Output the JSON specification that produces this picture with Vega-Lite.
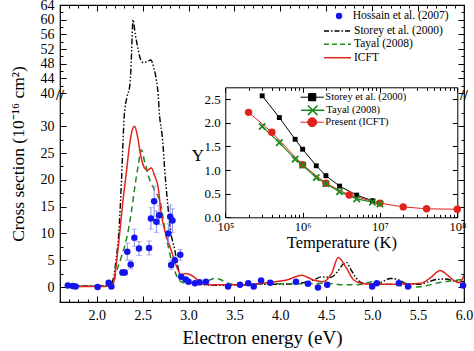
{
  "$schema": "https://vega.github.io/schema/vega-lite/v6.json",
  "width": 404,
  "height": 297,
  "autosize": {"type": "none"},
  "padding": {"left": 60, "top": 5, "right": 10, "bottom": 49},
  "background": "white",
  "config": {
    "font": "Liberation Serif",
    "view": {"stroke": "black", "strokeWidth": 1.2},
    "axis": {"grid": false, "labelFont": "Liberation Serif", "titleFont": "Liberation Serif", "labelColor": "black", "titleColor": "black", "tickColor": "black", "domainColor": "black", "labelFontWeight": "normal", "titleFontWeight": "normal", "labelOverlap": false, "labelFlush": false, "labelBound": false},
    "legend": {"labelFont": "Liberation Serif", "labelColor": "black", "title": null, "padding": 0, "orient": "none"}
  },
  "datasets": {
    "hos": [
      {"s":"Hossain et al. (2007)","x":1.685,"y":0.3,"e":0.3},{"s":"Hossain et al. (2007)","x":1.74,"y":0.2,"e":0.2},{"s":"Hossain et al. (2007)","x":1.77,"y":0.1,"e":0.2},{"s":"Hossain et al. (2007)","x":2.01,"y":0.0,"e":0.2},{"s":"Hossain et al. (2007)","x":2.13,"y":0.8,"e":0.4},{"s":"Hossain et al. (2007)","x":2.16,"y":0.1,"e":0.3},{"s":"Hossain et al. (2007)","x":2.28,"y":2.7,"e":0.5},{"s":"Hossain et al. (2007)","x":2.305,"y":2.7,"e":0.5},{"s":"Hossain et al. (2007)","x":2.333,"y":6.6,"e":1.6},{"s":"Hossain et al. (2007)","x":2.37,"y":4.2,"e":0.8},{"s":"Hossain et al. (2007)","x":2.41,"y":9.2,"e":1.6},{"s":"Hossain et al. (2007)","x":2.46,"y":7.2,"e":1.3},{"s":"Hossain et al. (2007)","x":2.57,"y":7.3,"e":1.3},{"s":"Hossain et al. (2007)","x":2.59,"y":12.8,"e":2.0},{"s":"Hossain et al. (2007)","x":2.625,"y":16.0,"e":2.8},{"s":"Hossain et al. (2007)","x":2.65,"y":12.2,"e":2.0},{"s":"Hossain et al. (2007)","x":2.68,"y":13.4,"e":1.8},{"s":"Hossain et al. (2007)","x":2.78,"y":10.0,"e":1.8},{"s":"Hossain et al. (2007)","x":2.80,"y":13.1,"e":2.2},{"s":"Hossain et al. (2007)","x":2.825,"y":12.4,"e":2.2},{"s":"Hossain et al. (2007)","x":2.81,"y":4.1,"e":0.8},{"s":"Hossain et al. (2007)","x":2.85,"y":5.0,"e":0.8},{"s":"Hossain et al. (2007)","x":2.91,"y":6.0,"e":1.0},{"s":"Hossain et al. (2007)","x":2.92,"y":1.9,"e":0.5},{"s":"Hossain et al. (2007)","x":2.97,"y":1.4,"e":0.3},{"s":"Hossain et al. (2007)","x":3.0,"y":1.0,"e":0.3},{"s":"Hossain et al. (2007)","x":3.07,"y":0.7,"e":0.2},{"s":"Hossain et al. (2007)","x":3.12,"y":0.9,"e":0.2},{"s":"Hossain et al. (2007)","x":3.19,"y":1.0,"e":0.2},{"s":"Hossain et al. (2007)","x":3.43,"y":0.1,"e":0.2},{"s":"Hossain et al. (2007)","x":3.56,"y":0.4,"e":0.2},{"s":"Hossain et al. (2007)","x":3.65,"y":0.7,"e":0.2},{"s":"Hossain et al. (2007)","x":3.71,"y":0.1,"e":0.2},{"s":"Hossain et al. (2007)","x":3.79,"y":1.2,"e":0.2},{"s":"Hossain et al. (2007)","x":3.89,"y":0.8,"e":0.2},{"s":"Hossain et al. (2007)","x":4.17,"y":1.0,"e":0.2},{"s":"Hossain et al. (2007)","x":4.30,"y":0.6,"e":0.2},{"s":"Hossain et al. (2007)","x":4.41,"y":-0.1,"e":0.2},{"s":"Hossain et al. (2007)","x":4.51,"y":0.4,"e":0.2},{"s":"Hossain et al. (2007)","x":5.0,"y":0.1,"e":0.2},{"s":"Hossain et al. (2007)","x":5.05,"y":0.7,"e":0.2},{"s":"Hossain et al. (2007)","x":5.29,"y":0.7,"e":0.2},{"s":"Hossain et al. (2007)","x":5.39,"y":0.1,"e":0.2},{"s":"Hossain et al. (2007)","x":5.99,"y":0.3,"e":0.2}
    ],
    "sto": [
      {"s":"Storey et al. (2000)","x":1.68,"y":0.2},{"s":"Storey et al. (2000)","x":1.9,"y":0.2},{"s":"Storey et al. (2000)","x":2.1,"y":0.3},{"s":"Storey et al. (2000)","x":2.15,"y":0.5},{"s":"Storey et al. (2000)","x":2.18,"y":1.5},{"s":"Storey et al. (2000)","x":2.21,"y":5},{"s":"Storey et al. (2000)","x":2.24,"y":10},{"s":"Storey et al. (2000)","x":2.27,"y":20},{"s":"Storey et al. (2000)","x":2.30,"y":32},{"s":"Storey et al. (2000)","x":2.33,"y":37},{"s":"Storey et al. (2000)","x":2.36,"y":42},{"s":"Storey et al. (2000)","x":2.375,"y":48},{"s":"Storey et al. (2000)","x":2.385,"y":55},{"s":"Storey et al. (2000)","x":2.395,"y":60},{"s":"Storey et al. (2000)","x":2.42,"y":56},{"s":"Storey et al. (2000)","x":2.45,"y":52},{"s":"Storey et al. (2000)","x":2.48,"y":49},{"s":"Storey et al. (2000)","x":2.51,"y":48.3},{"s":"Storey et al. (2000)","x":2.55,"y":48.6},{"s":"Storey et al. (2000)","x":2.59,"y":49},{"s":"Storey et al. (2000)","x":2.62,"y":47},{"s":"Storey et al. (2000)","x":2.65,"y":43.5},{"s":"Storey et al. (2000)","x":2.67,"y":38},{"s":"Storey et al. (2000)","x":2.68,"y":33},{"s":"Storey et al. (2000)","x":2.72,"y":27},{"s":"Storey et al. (2000)","x":2.74,"y":22},{"s":"Storey et al. (2000)","x":2.77,"y":16},{"s":"Storey et al. (2000)","x":2.80,"y":11},{"s":"Storey et al. (2000)","x":2.85,"y":6.9},{"s":"Storey et al. (2000)","x":2.90,"y":2.6},{"s":"Storey et al. (2000)","x":2.95,"y":1.2},{"s":"Storey et al. (2000)","x":3.0,"y":1.0},{"s":"Storey et al. (2000)","x":3.05,"y":0.7},{"s":"Storey et al. (2000)","x":3.2,"y":0.4},{"s":"Storey et al. (2000)","x":3.4,"y":0.3},{"s":"Storey et al. (2000)","x":3.6,"y":0.4},{"s":"Storey et al. (2000)","x":3.8,"y":0.5},{"s":"Storey et al. (2000)","x":4.0,"y":0.5},{"s":"Storey et al. (2000)","x":4.2,"y":0.7},{"s":"Storey et al. (2000)","x":4.35,"y":1.2},{"s":"Storey et al. (2000)","x":4.45,"y":1.9},{"s":"Storey et al. (2000)","x":4.55,"y":1.8},{"s":"Storey et al. (2000)","x":4.62,"y":2.8},{"s":"Storey et al. (2000)","x":4.68,"y":4.2},{"s":"Storey et al. (2000)","x":4.72,"y":4.6},{"s":"Storey et al. (2000)","x":4.76,"y":3.5},{"s":"Storey et al. (2000)","x":4.82,"y":1.8},{"s":"Storey et al. (2000)","x":4.9,"y":0.7},{"s":"Storey et al. (2000)","x":5.0,"y":0.6},{"s":"Storey et al. (2000)","x":5.1,"y":0.9},{"s":"Storey et al. (2000)","x":5.2,"y":1.6},{"s":"Storey et al. (2000)","x":5.28,"y":1.4},{"s":"Storey et al. (2000)","x":5.38,"y":0.6},{"s":"Storey et al. (2000)","x":5.5,"y":0.5},{"s":"Storey et al. (2000)","x":5.6,"y":0.9},{"s":"Storey et al. (2000)","x":5.7,"y":1.4},{"s":"Storey et al. (2000)","x":5.8,"y":1.5},{"s":"Storey et al. (2000)","x":5.9,"y":1.1},{"s":"Storey et al. (2000)","x":6.0,"y":1.0}
    ],
    "tay": [
      {"s":"Tayal (2008)","x":1.68,"y":0.1},{"s":"Tayal (2008)","x":2.1,"y":0.2},{"s":"Tayal (2008)","x":2.16,"y":0.5},{"s":"Tayal (2008)","x":2.18,"y":0.7},{"s":"Tayal (2008)","x":2.21,"y":2.6},{"s":"Tayal (2008)","x":2.27,"y":5.7},{"s":"Tayal (2008)","x":2.33,"y":9.4},{"s":"Tayal (2008)","x":2.377,"y":14},{"s":"Tayal (2008)","x":2.41,"y":18.1},{"s":"Tayal (2008)","x":2.45,"y":22.5},{"s":"Tayal (2008)","x":2.486,"y":25.6},{"s":"Tayal (2008)","x":2.52,"y":23.5},{"s":"Tayal (2008)","x":2.577,"y":20},{"s":"Tayal (2008)","x":2.63,"y":18.1},{"s":"Tayal (2008)","x":2.70,"y":15.2},{"s":"Tayal (2008)","x":2.74,"y":11},{"s":"Tayal (2008)","x":2.78,"y":7.5},{"s":"Tayal (2008)","x":2.82,"y":4.5},{"s":"Tayal (2008)","x":2.86,"y":2.5},{"s":"Tayal (2008)","x":2.9,"y":1.2},{"s":"Tayal (2008)","x":2.95,"y":0.8},{"s":"Tayal (2008)","x":3.1,"y":0.7},{"s":"Tayal (2008)","x":3.2,"y":1.1},{"s":"Tayal (2008)","x":3.29,"y":1.6},{"s":"Tayal (2008)","x":3.36,"y":1.3},{"s":"Tayal (2008)","x":3.41,"y":0.8},{"s":"Tayal (2008)","x":3.5,"y":0.5},{"s":"Tayal (2008)","x":3.8,"y":0.5},{"s":"Tayal (2008)","x":4.0,"y":0.6},{"s":"Tayal (2008)","x":4.3,"y":0.6},{"s":"Tayal (2008)","x":4.5,"y":0.7},{"s":"Tayal (2008)","x":4.7,"y":0.4},{"s":"Tayal (2008)","x":4.9,"y":0.5},{"s":"Tayal (2008)","x":5.0,"y":1.0},{"s":"Tayal (2008)","x":5.1,"y":0.7},{"s":"Tayal (2008)","x":5.3,"y":0.3},{"s":"Tayal (2008)","x":5.5,"y":0.0},{"s":"Tayal (2008)","x":5.6,"y":0.3},{"s":"Tayal (2008)","x":5.75,"y":0.9},{"s":"Tayal (2008)","x":5.9,"y":1.2},{"s":"Tayal (2008)","x":6.0,"y":1.5}
    ],
    "icf": [
      {"s":"ICFT","x":1.68,"y":0.1},{"s":"ICFT","x":2.0,"y":0.1},{"s":"ICFT","x":2.15,"y":0.2},{"s":"ICFT","x":2.18,"y":0.5},{"s":"ICFT","x":2.21,"y":3.8},{"s":"ICFT","x":2.25,"y":10},{"s":"ICFT","x":2.285,"y":16},{"s":"ICFT","x":2.32,"y":21},{"s":"ICFT","x":2.36,"y":26.8},{"s":"ICFT","x":2.39,"y":29.5},{"s":"ICFT","x":2.413,"y":30},{"s":"ICFT","x":2.44,"y":28.5},{"s":"ICFT","x":2.48,"y":24.5},{"s":"ICFT","x":2.52,"y":22.2},{"s":"ICFT","x":2.55,"y":21.8},{"s":"ICFT","x":2.595,"y":22.2},{"s":"ICFT","x":2.63,"y":20.8},{"s":"ICFT","x":2.67,"y":18.5},{"s":"ICFT","x":2.70,"y":14},{"s":"ICFT","x":2.75,"y":10},{"s":"ICFT","x":2.81,"y":6.9},{"s":"ICFT","x":2.87,"y":3.8},{"s":"ICFT","x":2.92,"y":2.3},{"s":"ICFT","x":2.97,"y":2.5},{"s":"ICFT","x":3.03,"y":2.2},{"s":"ICFT","x":3.10,"y":1.3},{"s":"ICFT","x":3.15,"y":0.5},{"s":"ICFT","x":3.3,"y":0.4},{"s":"ICFT","x":3.6,"y":0.4},{"s":"ICFT","x":3.9,"y":0.9},{"s":"ICFT","x":4.07,"y":1.3},{"s":"ICFT","x":4.23,"y":2.2},{"s":"ICFT","x":4.36,"y":1.3},{"s":"ICFT","x":4.46,"y":1.0},{"s":"ICFT","x":4.56,"y":2.6},{"s":"ICFT","x":4.63,"y":5.5},{"s":"ICFT","x":4.71,"y":3.8},{"s":"ICFT","x":4.80,"y":1.3},{"s":"ICFT","x":4.9,"y":0.6},{"s":"ICFT","x":5.1,"y":0.5},{"s":"ICFT","x":5.3,"y":0.5},{"s":"ICFT","x":5.53,"y":0.7},{"s":"ICFT","x":5.64,"y":1.8},{"s":"ICFT","x":5.74,"y":3.1},{"s":"ICFT","x":5.82,"y":2.2},{"s":"ICFT","x":5.89,"y":1.2},{"s":"ICFT","x":5.95,"y":0.8},{"s":"ICFT","x":6.0,"y":2.2}
    ],
    "brk": [{"x":1.6,"y":37.5},{"x":6.0,"y":37.5}],
    "ist": [
      {"m":"Storey et al. (2000)","t":300000,"g":2.57},{"m":"Storey et al. (2000)","t":500000,"g":2.11},{"m":"Storey et al. (2000)","t":800000,"g":1.65},{"m":"Storey et al. (2000)","t":1000000,"g":1.44},{"m":"Storey et al. (2000)","t":1500000,"g":1.09},{"m":"Storey et al. (2000)","t":2000000,"g":0.88},{"m":"Storey et al. (2000)","t":3000000,"g":0.66},{"m":"Storey et al. (2000)","t":5000000,"g":0.47},{"m":"Storey et al. (2000)","t":8000000,"g":0.35}
    ],
    "ita": [
      {"m":"Tayal (2008)","t":300000,"g":1.92},{"m":"Tayal (2008)","t":500000,"g":1.58},{"m":"Tayal (2008)","t":800000,"g":1.23},{"m":"Tayal (2008)","t":1000000,"g":1.10},{"m":"Tayal (2008)","t":1500000,"g":0.84},{"m":"Tayal (2008)","t":2000000,"g":0.71},{"m":"Tayal (2008)","t":3000000,"g":0.54},{"m":"Tayal (2008)","t":5000000,"g":0.39},{"m":"Tayal (2008)","t":8000000,"g":0.32},{"m":"Tayal (2008)","t":10000000,"g":0.28}
    ],
    "ipr": [
      {"m":"Present  (ICFT)","t":200000,"g":2.22},{"m":"Present  (ICFT)","t":400000,"g":1.80},{"m":"Present  (ICFT)","t":1000000,"g":1.11},{"m":"Present  (ICFT)","t":2000000,"g":0.72},{"m":"Present  (ICFT)","t":4000000,"g":0.47},{"m":"Present  (ICFT)","t":10000000,"g":0.30},{"m":"Present  (ICFT)","t":20000000,"g":0.22},{"m":"Present  (ICFT)","t":40000000,"g":0.18},{"m":"Present  (ICFT)","t":100000000,"g":0.17}
    ]
  },
  "layer": [
    {
      "layer": [
        {
          "data": {"name": "sto"},
          "mark": {"type": "line", "interpolate": "monotone", "strokeWidth": 1.4, "strokeDash": [6, 2, 1.5, 2, 1.5, 2], "clip": true},
          "encoding": {
            "x": {"field": "x", "type": "quantitative", "scale": {"domain": [1.6, 6.0], "nice": false, "zero": false},
              "axis": {"orient": "bottom", "values": [2, 2.5, 3, 3.5, 4, 4.5, 5, 5.5, 6], "format": ".1f", "ticks": false, "domain": false, "labelFontSize": 14, "labelPadding": 6, "title": "Electron energy (eV)", "titleFontSize": 19, "titlePadding": 6}},
            "y": {"field": "y", "type": "quantitative", "scale": {"domain": [-2.8, 35, 40, 64], "range": [297, 94.5, 88, 0], "nice": false, "zero": false},
              "axis": {"orient": "left", "values": [0, 5, 10, 15, 20, 25, 30, 40, 44, 48, 52, 56, 60, 64], "ticks": false, "domain": false, "labelFontSize": 14, "labelPadding": 6, "title": "Cross section (10⁻¹⁶ cm²)", "titleFontSize": 17.5, "titlePadding": 13}},
            "color": {"field": "s", "type": "nominal", "scale": {"domain": ["Storey et al. (2000)"], "range": ["#000000"]},
              "legend": {"legendX": 270.5, "legendY": 19, "symbolType": "M-2.25,0H2.25", "symbolSize": 144, "symbolDash": [5, 2, 1.5, 2], "symbolStrokeWidth": 1.5, "symbolFillColor": "transparent", "labelFont": "Liberation Serif", "labelFontSize": 11.5, "labelOffset": 9.5}}
          }
        },
        {
          "data": {"name": "tay"},
          "mark": {"type": "line", "interpolate": "monotone", "strokeWidth": 1.5, "strokeDash": [6, 4], "clip": true},
          "encoding": {
            "x": {"field": "x", "type": "quantitative", "scale": {"domain": [1.6, 6.0], "nice": false, "zero": false},
              "axis": {"orient": "bottom", "values": [2, 2.5, 3, 3.5, 4, 4.5, 5, 5.5, 6], "labels": false, "domain": false, "tickSize": -6, "title": null}},
            "y": {"field": "y", "type": "quantitative", "scale": {"domain": [-2.8, 35, 40, 64], "range": [297, 94.5, 88, 0], "nice": false, "zero": false},
              "axis": {"orient": "left", "values": [0, 5, 10, 15, 20, 25, 30, 40, 44, 48, 52, 56, 60, 64], "labels": false, "domain": false, "tickSize": -6, "title": null}},
            "color": {"field": "s", "type": "nominal", "scale": {"domain": ["Tayal (2008)"], "range": ["#1e8a1e"]},
              "legend": {"legendX": 270.5, "legendY": 32.3, "symbolType": "M-2.25,0H2.25", "symbolSize": 144, "symbolDash": [5, 3], "symbolStrokeWidth": 1.5, "symbolFillColor": "transparent", "labelFont": "Liberation Serif", "labelFontSize": 11.5, "labelOffset": 9.5}}
          }
        },
        {
          "data": {"name": "icf"},
          "mark": {"type": "line", "interpolate": "monotone", "strokeWidth": 1.5, "clip": true},
          "encoding": {
            "x": {"field": "x", "type": "quantitative", "scale": {"domain": [1.6, 6.0], "nice": false, "zero": false},
              "axis": {"orient": "bottom", "values": [1.6, 1.7, 1.8, 1.9, 2.1, 2.2, 2.3, 2.4, 2.6, 2.7, 2.8, 2.9, 3.1, 3.2, 3.3, 3.4, 3.6, 3.7, 3.8, 3.9, 4.1, 4.2, 4.3, 4.4, 4.6, 4.7, 4.8, 4.9, 5.1, 5.2, 5.3, 5.4, 5.6, 5.7, 5.8, 5.9], "labels": false, "domain": false, "tickSize": -3, "title": null}},
            "y": {"field": "y", "type": "quantitative", "scale": {"domain": [-2.8, 35, 40, 64], "range": [297, 94.5, 88, 0], "nice": false, "zero": false},
              "axis": {"orient": "left", "values": [2.5, 7.5, 12.5, 17.5, 22.5, 27.5, 32.5, 42, 46, 50, 54, 58, 62], "labels": false, "domain": false, "tickSize": -3, "title": null}},
            "color": {"field": "s", "type": "nominal", "scale": {"domain": ["ICFT"], "range": ["#e0231d"]},
              "legend": {"legendX": 270.5, "legendY": 45.7, "symbolType": "M-2.25,0H2.25", "symbolSize": 144, "symbolStrokeWidth": 1.5, "symbolFillColor": "transparent", "labelFont": "Liberation Serif", "labelFontSize": 11.5, "labelOffset": 9.5}}
          }
        },
        {
          "data": {"name": "hos"},
          "mark": {"type": "errorbar", "color": "#8c8ce8", "ticks": true, "thickness": 1},
          "encoding": {
            "x": {"field": "x", "type": "quantitative", "scale": {"domain": [1.6, 6.0], "nice": false, "zero": false}, "axis": null},
            "y": {"field": "y", "type": "quantitative", "scale": {"domain": [-2.8, 35, 40, 64], "range": [297, 94.5, 88, 0], "nice": false, "zero": false}, "axis": null},
            "yError": {"field": "e"}
          }
        },
        {
          "data": {"name": "hos"},
          "mark": {"type": "point", "filled": true, "size": 42, "opacity": 1},
          "encoding": {
            "x": {"field": "x", "type": "quantitative", "scale": {"domain": [1.6, 6.0], "nice": false, "zero": false},
              "axis": {"orient": "top", "values": [2, 2.5, 3, 3.5, 4, 4.5, 5, 5.5, 6], "labels": false, "domain": false, "tickSize": -6, "title": null}},
            "y": {"field": "y", "type": "quantitative", "scale": {"domain": [-2.8, 35, 40, 64], "range": [297, 94.5, 88, 0], "nice": false, "zero": false},
              "axis": {"orient": "right", "values": [0, 5, 10, 15, 20, 25, 30, 40, 44, 48, 52, 56, 60, 64], "labels": false, "domain": false, "tickSize": -6, "title": null}},
            "color": {"field": "s", "type": "nominal", "scale": {"domain": ["Hossain et al. (2007)"], "range": ["#1414ee"]},
              "legend": {"legendX": 273.3, "legendY": 5.25, "symbolType": "circle", "symbolSize": 40, "symbolStrokeColor": "transparent", "symbolStrokeWidth": 0, "labelFont": "Liberation Serif", "labelFontSize": 11.5, "labelOffset": 8}}
          }
        },
        {
          "data": {"name": "brk"},
          "mark": {"type": "text", "text": "//", "fontSize": 14, "fontWeight": "bold", "color": "black"},
          "encoding": {
            "x": {"field": "x", "type": "quantitative", "scale": {"domain": [1.6, 6.0], "nice": false, "zero": false},
              "axis": {"orient": "top", "values": [1.6, 1.7, 1.8, 1.9, 2.1, 2.2, 2.3, 2.4, 2.6, 2.7, 2.8, 2.9, 3.1, 3.2, 3.3, 3.4, 3.6, 3.7, 3.8, 3.9, 4.1, 4.2, 4.3, 4.4, 4.6, 4.7, 4.8, 4.9, 5.1, 5.2, 5.3, 5.4, 5.6, 5.7, 5.8, 5.9], "labels": false, "domain": false, "tickSize": -3, "title": null}},
            "y": {"field": "y", "type": "quantitative", "scale": {"domain": [-2.8, 35, 40, 64], "range": [297, 94.5, 88, 0], "nice": false, "zero": false},
              "axis": {"orient": "right", "values": [2.5, 7.5, 12.5, 17.5, 22.5, 27.5, 32.5, 42, 46, 50, 54, 58, 62], "labels": false, "domain": false, "tickSize": -3, "title": null}}
          }
        }
      ],
      "resolve": {"scale": {"color": "independent"}, "legend": {"color": "independent"}, "axis": {"x": "independent", "y": "independent"}}
    },
    {
      "layer": [
        {
          "data": {"name": "ist"},
          "mark": {"type": "line", "strokeWidth": 1, "color": "#000000"},
          "encoding": {
            "x": {"field": "t", "type": "quantitative", "scale": {"type": "log", "domain": [100000, 100000000], "range": [165.3, 397.3], "nice": false},
              "axis": {"orient": "bottom", "offset": -84.7, "values": [100000, 1000000, 10000000, 100000000], "labelExpr": "datum.value >= 1e8 ? '10⁸' : datum.value >= 1e7 ? '10⁷' : datum.value >= 1e6 ? '10⁶' : '10⁵'", "ticks": false, "domain": true, "labelFontSize": 12.5, "labelPadding": 3, "title": "Temperature (K)", "titleFontSize": 16.5, "titlePadding": 2}},
            "y": {"field": "g", "type": "quantitative", "scale": {"domain": [0, 2.75], "range": [212.3, 82.3], "nice": false, "zero": false},
              "axis": {"orient": "left", "offset": -165.3, "values": [0, 0.5, 1, 1.5, 2, 2.5], "format": ".1f", "ticks": false, "domain": true, "labelFontSize": 13, "labelPadding": 5, "title": "Υ", "titleAngle": 0, "titleFontSize": 17, "titleX": -28, "titleY": 150, "titleAlign": "center", "titleBaseline": "middle"}}
          }
        },
        {
          "data": {"name": "ipr"},
          "mark": {"type": "line", "strokeWidth": 1, "color": "#e0231d"},
          "encoding": {
            "x": {"field": "t", "type": "quantitative", "scale": {"type": "log", "domain": [100000, 100000000], "range": [165.3, 397.3], "nice": false},
              "axis": {"orient": "bottom", "offset": -84.7, "values": [100000, 1000000, 10000000, 100000000], "labels": false, "domain": false, "tickSize": -5, "title": null}},
            "y": {"field": "g", "type": "quantitative", "scale": {"domain": [0, 2.75], "range": [212.3, 82.3], "nice": false, "zero": false},
              "axis": {"orient": "left", "offset": -165.3, "values": [0, 0.5, 1, 1.5, 2, 2.5], "labels": false, "domain": false, "tickSize": -5, "title": null}}
          }
        },
        {
          "data": {"name": "ita"},
          "mark": {"type": "line", "strokeWidth": 1.2, "color": "#1e8a1e"},
          "encoding": {
            "x": {"field": "t", "type": "quantitative", "scale": {"type": "log", "domain": [100000, 100000000], "range": [165.3, 397.3], "nice": false},
              "axis": {"orient": "bottom", "offset": -84.7, "values": [200000, 300000, 400000, 500000, 600000, 700000, 800000, 900000, 2000000, 3000000, 4000000, 5000000, 6000000, 7000000, 8000000, 9000000, 20000000, 30000000, 40000000, 50000000, 60000000, 70000000, 80000000, 90000000], "labels": false, "domain": false, "tickSize": -3, "title": null}},
            "y": {"field": "g", "type": "quantitative", "scale": {"domain": [0, 2.75], "range": [212.3, 82.3], "nice": false, "zero": false},
              "axis": {"orient": "right", "offset": -6.7, "values": [0, 0.5, 1, 1.5, 2, 2.5], "labels": false, "domain": true, "tickSize": -5, "title": null}}
          }
        },
        {
          "data": {"name": "ist"},
          "mark": {"type": "point", "shape": "square", "filled": true, "size": 24, "opacity": 1},
          "encoding": {
            "x": {"field": "t", "type": "quantitative", "scale": {"type": "log", "domain": [100000, 100000000], "range": [165.3, 397.3], "nice": false},
              "axis": {"orient": "top", "offset": -82.3, "values": [100000, 1000000, 10000000, 100000000], "labels": false, "domain": true, "tickSize": -5, "title": null}},
            "y": {"field": "g", "type": "quantitative", "scale": {"domain": [0, 2.75], "range": [212.3, 82.3], "nice": false, "zero": false}, "axis": null},
            "color": {"field": "m", "type": "nominal", "scale": {"domain": ["Storey et al. (2000)"], "range": ["#000000"]},
              "legend": {"legendX": 245.7, "legendY": 85.7, "symbolType": "M-1.95,0H1.95M-0.6,-0.6H0.6V0.6H-0.6Z", "symbolSize": 144, "symbolStrokeColor": "#000000", "symbolStrokeWidth": 1, "labelFont": "Liberation Serif", "labelFontSize": 10.5, "labelOffset": 6.6}}
          }
        },
        {
          "data": {"name": "ipr"},
          "mark": {"type": "point", "shape": "circle", "filled": true, "size": 55, "opacity": 1},
          "encoding": {
            "x": {"field": "t", "type": "quantitative", "scale": {"type": "log", "domain": [100000, 100000000], "range": [165.3, 397.3], "nice": false},
              "axis": {"orient": "top", "offset": -82.3, "values": [200000, 300000, 400000, 500000, 600000, 700000, 800000, 900000, 2000000, 3000000, 4000000, 5000000, 6000000, 7000000, 8000000, 9000000, 20000000, 30000000, 40000000, 50000000, 60000000, 70000000, 80000000, 90000000], "labels": false, "domain": false, "tickSize": -3, "title": null}},
            "y": {"field": "g", "type": "quantitative", "scale": {"domain": [0, 2.75], "range": [212.3, 82.3], "nice": false, "zero": false}, "axis": null},
            "color": {"field": "m", "type": "nominal", "scale": {"domain": ["Present  (ICFT)"], "range": ["#e0231d"]},
              "legend": {"legendX": 245.7, "legendY": 110.7, "symbolType": "M-1.95,0H1.95M0.75,0A0.75,0.75,0,1,1,-0.75,0A0.75,0.75,0,1,1,0.75,0Z", "symbolSize": 144, "symbolStrokeColor": "#e0231d", "symbolStrokeWidth": 1, "labelFont": "Liberation Serif", "labelFontSize": 10.5, "labelOffset": 6.6}}
          }
        },
        {
          "data": {"name": "ita"},
          "mark": {"type": "point", "shape": "M-1,-1L1,1M-1,1L1,-1", "filled": false, "size": 40, "strokeWidth": 1.8, "opacity": 1},
          "encoding": {
            "x": {"field": "t", "type": "quantitative", "scale": {"type": "log", "domain": [100000, 100000000], "range": [165.3, 397.3], "nice": false}, "axis": null},
            "y": {"field": "g", "type": "quantitative", "scale": {"domain": [0, 2.75], "range": [212.3, 82.3], "nice": false, "zero": false}, "axis": null},
            "color": {"field": "m", "type": "nominal", "scale": {"domain": ["Tayal (2008)"], "range": ["#1e8a1e"]},
              "legend": {"legendX": 245.7, "legendY": 98.3, "symbolType": "M-1.95,0H1.95M-0.8,-0.8L0.8,0.8M-0.8,0.8L0.8,-0.8", "symbolSize": 144, "symbolFillColor": "transparent", "symbolStrokeWidth": 1.6, "labelFont": "Liberation Serif", "labelFontSize": 10.5, "labelOffset": 6.6}}
          }
        }
      ],
      "resolve": {"scale": {"color": "independent"}, "legend": {"color": "independent"}, "axis": {"x": "independent", "y": "independent"}}
    }
  ],
  "resolve": {
    "scale": {"x": "independent", "y": "independent", "color": "independent"},
    "axis": {"x": "independent", "y": "independent"},
    "legend": {"color": "independent"}
  }
}
